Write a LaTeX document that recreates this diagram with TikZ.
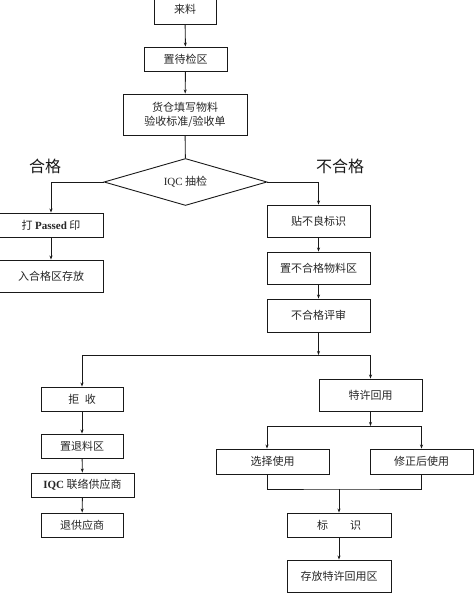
\documentclass[tikz,border=0pt]{standalone}
\usepackage{fontspec}
\setmainfont{Noto Sans CJK SC}
\newfontfamily\lat{Liberation Serif}
\usetikzlibrary{shapes.geometric,arrows.meta}
\begin{document}
\begin{tikzpicture}[x=1pt,y=-1pt,
  box/.style={draw=black!90,line width=0.9pt,inner sep=0pt,font=\fontsize{11}{14}\selectfont,text=black!85,align=center},
  arr/.style={line width=0.9pt,draw=black!90,-{Stealth[length=4pt,width=3pt]}},
  ln/.style={line width=0.9pt,draw=black!90},
  lbl/.style={font=\fontsize{16}{18}\selectfont,text=black!90,inner sep=0pt}]
\useasboundingbox (0,0) rectangle (474,593);
\node[box,minimum width=62pt,minimum height=30pt] (laiiao) at (185,9) {\raisebox{-3pt}{来料}};
\node[box,minimum width=83pt,minimum height=24pt] (daijian) at (185.5,59) {置待检区};
\node[box,minimum width=124pt,minimum height=41pt] (huocang) at (185,114.5) {货仓填写物料\\验收标准/验收单};
\node[draw=black!90,line width=0.9pt,diamond,aspect=3.5,minimum width=163pt,minimum height=47pt,inner sep=0pt,font=\fontsize{11}{14}\selectfont,text=black!85] (iqc) at (185.5,182) {{\lat IQC} 抽检};
\node[lbl] (hege) at (45,166) {合格};
\node[lbl] (buhege) at (340,166) {不合格};
\node[box,minimum width=104pt,minimum height=24pt] (passed) at (51,225) {打 {\lat\bfseries Passed} 印};
\node[box,minimum width=104pt,minimum height=32pt] (ruhe) at (51,276) {入合格区存放};
\node[box,minimum width=103pt,minimum height=32pt] (tiebu) at (318.5,221) {贴不良标识};
\node[box,minimum width=103pt,minimum height=32pt] (zhibu) at (318.5,268) {置不合格物料区};
\node[box,minimum width=103pt,minimum height=33pt] (pingshen) at (318.5,315.5) {不合格评审};
\coordinate (split) at (318.5,355);
\node[box,minimum width=82pt,minimum height=24pt] (jushou) at (82,399) {拒\hspace{0.5em}收};
\node[box,minimum width=103pt,minimum height=32pt] (texu) at (370.5,395) {特许回用};
\node[box,minimum width=82pt,minimum height=24pt] (zhitui) at (82,446) {置退料区};
\node[box,minimum width=103pt,minimum height=24pt] (lianluo) at (82.5,485) {{\lat\bfseries IQC} 联络供应商};
\node[box,minimum width=82pt,minimum height=24pt] (tuigong) at (82,525) {退供应商};
\coordinate (split2) at (370.5,426);
\node[box,minimum width=113pt,minimum height=25pt] (xuanze) at (272.5,461.5) {选择使用};
\node[box,minimum width=103pt,minimum height=25pt] (xiuzheng) at (421.5,461.5) {修正后使用};
\coordinate (join) at (339,489);
\node[box,minimum width=104pt,minimum height=24pt] (biaoshi) at (339,525) {标\hspace{2em}识};
\node[box,minimum width=104pt,minimum height=32pt] (cunfang) at (339,576) {存放特许回用区};
\draw[arr] (laiiao) -- (daijian);
\draw[arr] (daijian) -- (huocang);
\draw[ln] (huocang) -- (iqc);
\draw[arr] (iqc.west) -| (passed.north);
\draw[arr] (iqc.east) -| (tiebu.north);
\draw[arr] (passed) -- (ruhe);
\draw[arr] (tiebu) -- (zhibu);
\draw[arr] (zhibu) -- (pingshen);
\draw[arr] (pingshen) -- (split);
\draw[arr] (split) -| (jushou.north);
\draw[arr] (split) -| (texu.north);
\draw[arr] (jushou) -- (zhitui);
\draw[arr] (zhitui) -- (lianluo);
\draw[arr] (lianluo) -- (tuigong);
\draw[arr] (texu) -- (split2);
\draw[arr] (split2) -| ([xshift=-5.5pt]xuanze.north);
\draw[arr] (split2) -| (xiuzheng.north);
\draw[ln] ([xshift=-5.5pt]xuanze.south) |- (join) -| (xiuzheng.south);
\draw[arr] (join) -- (biaoshi);
\draw[arr] (biaoshi) -- (cunfang);
\end{tikzpicture}
\end{document}
